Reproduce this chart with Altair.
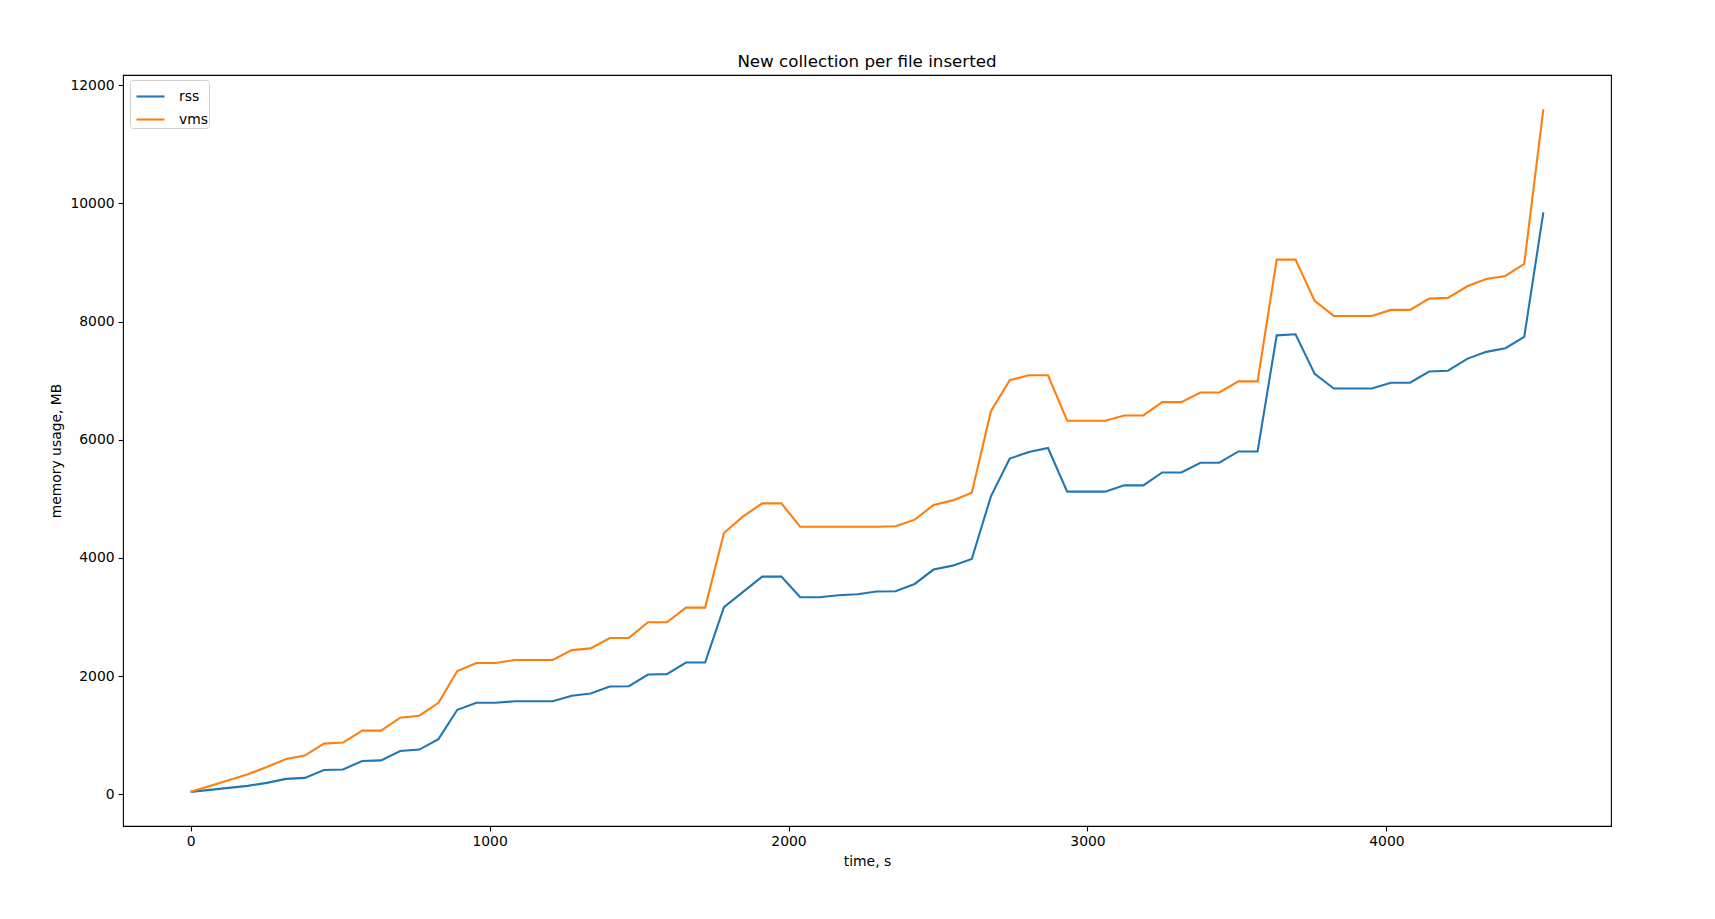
import altair as alt
import pandas as pd

# time stamps (s)
time_s = [0, 64, 127, 191, 255, 319, 382, 446, 510, 574, 637, 701, 765, 829, 892, 956,
          1020, 1083, 1147, 1211, 1275, 1338, 1402, 1466, 1530, 1593, 1657, 1721, 1784, 1848,
          1912, 1976, 2039, 2103, 2167, 2231, 2294, 2358, 2422, 2485, 2549, 2613, 2677, 2740,
          2804, 2868, 2932, 2995, 3059, 3123, 3187, 3250, 3314, 3378, 3441, 3505, 3569, 3633,
          3696, 3760, 3824, 3888, 3951, 4015, 4079, 4143, 4206, 4270, 4334, 4398, 4461, 4525]

rss = [42, 76, 110, 144, 194, 262, 279, 413, 421, 565, 574, 733, 758, 935, 1431, 1549,
       1549, 1574, 1574, 1574, 1667, 1705, 1825, 1830, 2028, 2034, 2231, 2231, 3166, 3425,
       3684, 3684, 3335, 3335, 3369, 3386, 3431, 3437, 3560, 3803, 3870, 3983, 5042, 5682,
       5791, 5859, 5122, 5122, 5122, 5228, 5228, 5447, 5447, 5611, 5611, 5802, 5802, 7766,
       7785, 7115, 6867, 6867, 6867, 6965, 6965, 7154, 7168, 7369, 7487, 7549, 7741, 9847]

vms = [42, 140, 240, 340, 462, 598, 657, 859, 876, 1078, 1078, 1296, 1330, 1549, 2087, 2222,
       2222, 2273, 2273, 2273, 2441, 2470, 2645, 2647, 2912, 2912, 3160, 3160, 4422, 4704,
       4923, 4923, 4529, 4529, 4529, 4529, 4529, 4535, 4648, 4895, 4974, 5104, 6484, 7009,
       7090, 7090, 6321, 6321, 6321, 6411, 6411, 6636, 6636, 6800, 6800, 6988, 6988, 9047,
       9047, 8349, 8095, 8095, 8095, 8197, 8197, 8388, 8400, 8597, 8721, 8771, 8974, 11594]

series_names = ["rss", "vms"]
series_colors = ["#1f77b4", "#ff7f0e"]
x_ticks = [0, 1000, 2000, 3000, 4000]
y_ticks = [0, 2000, 4000, 6000, 8000, 10000, 12000]

rows = []
for name, vals in zip(series_names, [rss, vms]):
    for t, v in zip(time_s, vals):
        rows.append({"time": t, "value": v, "series": name})
df = pd.DataFrame(rows)

FONT = "DejaVu Sans"
t_max = max(time_s)
y_min, y_max = min(rss + vms), max(rss + vms)
x_dom = [-0.05 * t_max, t_max * 1.05]
y_pad = 0.05 * (y_max - y_min)
y_dom = [y_min - y_pad, y_max + y_pad]

chart = alt.Chart(df).mark_line(strokeWidth=2.1, clip=True).encode(
    x=alt.X("time:Q",
            scale=alt.Scale(domain=x_dom, nice=False, zero=False),
            axis=alt.Axis(values=x_ticks, title="time, s", format="d")),
    y=alt.Y("value:Q",
            scale=alt.Scale(domain=y_dom, nice=False, zero=False),
            axis=alt.Axis(values=y_ticks, title="memory usage, MB", format="d")),
    color=alt.Color("series:N",
                    scale=alt.Scale(domain=series_names, range=series_colors),
                    legend=alt.Legend(orient="none", legendX=7, legendY=5, title=None,
                                      symbolType="stroke", symbolStrokeWidth=2.1,
                                      symbolSize=784, symbolOffset=4,
                                      labelFontSize=13.9, labelFont=FONT,
                                      labelColor="black", labelOffset=13,
                                      fillColor="white", strokeColor="#d0d0d0",
                                      cornerRadius=3, padding=1, rowPadding=-11)),
    detail="series:N",
).properties(
    width=1488,
    height=751,
    title=alt.TitleParams("New collection per file inserted", fontSize=16.7, font=FONT,
                          fontWeight="normal", color="black", anchor="middle", offset=4),
    padding={"left": 115, "top": 67, "right": 90, "bottom": 85},
    autosize=alt.AutoSizeParams(type="none"),
).configure_view(
    stroke="black", strokeWidth=1.1
).configure_axis(
    domain=False, grid=False, tickColor="black", tickSize=4.9, tickWidth=1.1,
    labelFont=FONT, labelFontSize=13.9, labelColor="black", labelPadding=4,
    titleFont=FONT, titleFontSize=13.9, titleFontWeight="normal", titleColor="black",
    titlePadding=6
)

chart.save("out.html", embed_options={"renderer": "svg", "actions": False})
